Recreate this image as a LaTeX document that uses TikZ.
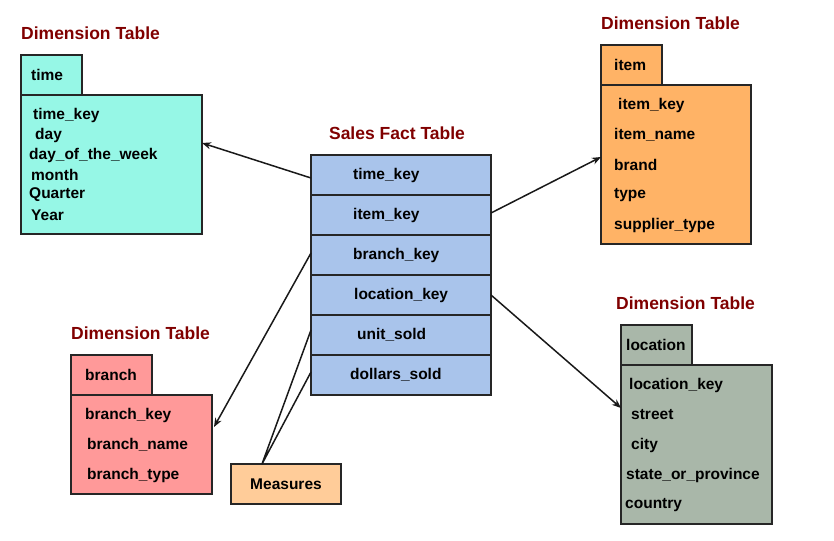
\documentclass[tikz,border=0pt]{standalone}
\usepackage{fontspec}
\usetikzlibrary{arrows.meta}
\setmainfont{Liberation Sans}
\begin{document}
\begin{tikzpicture}[x=1pt,y=-1pt,
 box/.style={draw=black!85,line width=1.5pt},
 t/.style={font=\bfseries\fontsize{15.5}{18}\selectfont,anchor=west,inner sep=0},
 title/.style={font=\bfseries\fontsize{17.5}{20}\selectfont,text=red!50!black,anchor=west,inner sep=0},
 arr/.style={-{Stealth[length=9pt,width=7pt]},line width=1.5pt,black!90}]
\useasboundingbox (0,0) rectangle (834,540);
\definecolor{cTime}{HTML}{96F7E6}
\definecolor{cFact}{HTML}{A9C4EB}
\definecolor{cItem}{HTML}{FFB366}
\definecolor{cLoc}{HTML}{A9B7A9}
\definecolor{cBr}{HTML}{FF9999}
\definecolor{cMe}{HTML}{FFCC99}
% time
\node[title] (tt1) at (21,33) {Dimension Table};
\draw[box,fill=cTime] (21,55) rectangle (82,95);
\node[t] (timet) at (31,75) {time};
\draw[box,fill=cTime] (21,95) rectangle (202,234);
\node[t] (a1) at (33,115) {time\_key};
\node[t] (a2) at (35,135) {day};
\node[t] (a3) at (29,155) {day\_of\_the\_week};
\node[t] (a4) at (31,175) {month};
\node[t] (a5) at (29,195) {Quarter};
\node[t] (a6) at (31,215) {Year};
% fact
\node[title,anchor=center] (ft) at (397,133) {Sales Fact Table};
\foreach \y/\l/\n/\x in {155/time\_key/f1/353,195/item\_key/f2/353,235/branch\_key/f3/353,275/location\_key/f4/354,315/unit\_sold/f5/357,355/dollars\_sold/f6/350}{
 \draw[box,fill=cFact] (311,\y) rectangle (491,\y+40);
 \node[t] (\n) at (\x,\y+20) {\l};}
% item
\node[title] (tt2) at (601,23) {Dimension Table};
\draw[box,fill=cItem] (601,45) rectangle (662,85);
\node[t] (itemt) at (614,65) {item};
\draw[box,fill=cItem] (601,85) rectangle (751,244);
\node[t] (b1) at (618,105) {item\_key};
\node[t] (b2) at (614,135) {item\_name};
\node[t] (b3) at (614,165) {brand};
\node[t] (b4) at (614,195) {type};
\node[t] (b5) at (614,225) {supplier\_type};
% location
\node[title] (tt3) at (616,303) {Dimension Table};
\draw[box,fill=cLoc] (621,325) rectangle (692,365);
\node[t] (loct) at (626,345) {location};
\draw[box,fill=cLoc] (621,365) rectangle (772,524);
\node[t] (c1) at (629,385) {location\_key};
\node[t] (c2) at (631,415) {street};
\node[t] (c3) at (631,445) {city};
\node[t] (c4) at (626,475) {state\_or\_province};
\node[t] (c5) at (625,505) {country};
% branch
\node[title] (tt4) at (71,333) {Dimension Table};
\draw[box,fill=cBr] (71,355) rectangle (152,395);
\node[t] (brt) at (85,375) {branch};
\draw[box,fill=cBr] (71,395) rectangle (212,494);
\node[t] (d1) at (85,415) {branch\_key};
\node[t] (d2) at (87,445) {branch\_name};
\node[t] (d3) at (87,475) {branch\_type};
% measures
\node[box,fill=cMe,minimum width=110,minimum height=40,inner sep=0,font=\bfseries\fontsize{15.5}{18}\selectfont] (me) at (286,484) {Measures};
% connectors
\coordinate (p1) at (311,178); \coordinate (q1) at (202,143);
\coordinate (p2) at (491,213); \coordinate (q2) at (601,157);
\coordinate (p3) at (491,295); \coordinate (q3) at (621,408);
\coordinate (p4) at (311,253); \coordinate (q4) at (214,427);
\coordinate (m0) at (262,464); \coordinate (m1) at (311,330); \coordinate (m2) at (311,372);
\draw[arr] (p1) -- (q1);
\draw[arr] (p2) -- (q2);
\draw[arr] (p3) -- (q3);
\draw[arr] (p4) -- (q4);
\draw[line width=1.5pt,black!90] (m1) -- (m0) -- (m2);
\end{tikzpicture}
\end{document}
